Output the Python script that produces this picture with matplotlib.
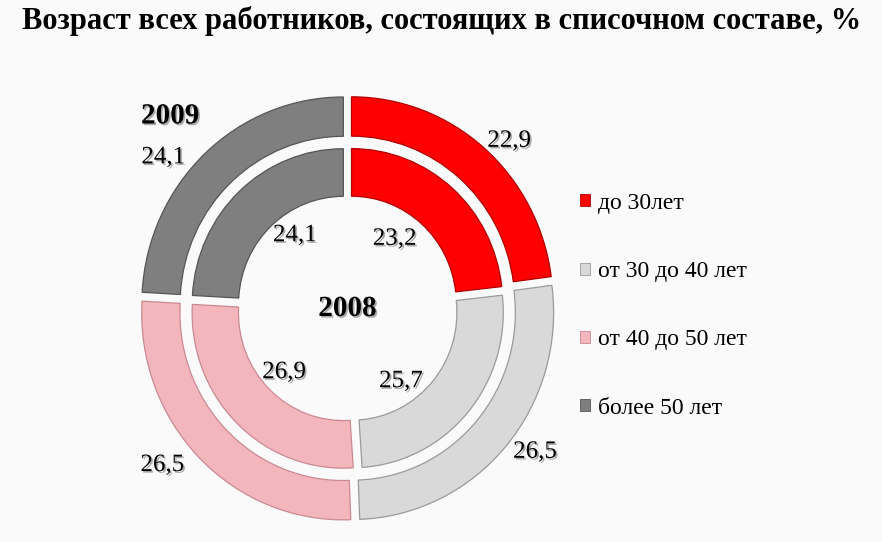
import numpy as np
import matplotlib.pyplot as plt
import matplotlib.patheffects as pe
from matplotlib.patches import Patch

plt.rcParams['font.family'] = ['Liberation Serif', 'DejaVu Serif']

# --- данные ---
categories = ["до 30лет", "от 30 до 40 лет", "от 40 до 50 лет", "более 50 лет"]
values_2009 = [22.9, 26.5, 26.5, 24.1]  # внешнее кольцо
values_2008 = [23.2, 25.7, 26.9, 24.1]  # внутреннее кольцо
colors = ["#ff0000", "#d9d9d9", "#f4b6bd", "#7f7f7f"]
edges = ["#b00000", "#9a9a9a", "#c98a92", "#555555"]

# подписи: (радиус, сдвиг угла в градусах) относительно биссектрисы сектора
outer_lbl = [(1.14, -3.5), (1.16, 3.5), (1.19, -5.0), (1.17, 8.0)]
inner_lbl = [(0.41, 7.0), (0.44, -13.0), (0.44, -1.0), (0.44, -7.0)]

fig = plt.figure(figsize=(8.82, 5.42), dpi=100)
fig.patch.set_facecolor("#fafafa")

# оси для диаграммы: центр ~ (347.5, 308.5) px, радиус ~202 x 207 px
lim = 1.2
rx, ry = 201.5, 207
wpx, hpx = 2 * lim * rx, 2 * lim * ry
ax = fig.add_axes([(347.5 - wpx / 2) / 882, (233.5 - hpx / 2) / 542, wpx / 882, hpx / 542])

shadow = [pe.SimplePatchShadow(offset=(1.2, -1.2), shadow_rgbFace="#777777", alpha=0.6), pe.Normal()]

outer, _ = ax.pie(values_2009, radius=1.0, startangle=90, counterclock=False,
                  colors=colors, explode=[0.03] * 4,
                  wedgeprops=dict(width=0.19, linewidth=0.9))
inner, _ = ax.pie(values_2008, radius=0.75, startangle=90, counterclock=False,
                  colors=colors, explode=[0.03] * 4,
                  wedgeprops=dict(width=0.23, linewidth=0.9))
for wd, ec in zip(list(outer) + list(inner), edges * 2):
    wd.set_edgecolor(ec)
ax.set_aspect("auto")
ax.set_xlim(-lim, lim)
ax.set_ylim(-lim, lim)
ax.axis("off")


def bisectors(vals):
    vals = np.asarray(vals)
    return 90 - 360 * (np.cumsum(vals) - vals / 2) / vals.sum()


def fmt(v):
    return f"{v:.1f}".replace(".", ",")


for vals, lbl in [(values_2009, outer_lbl), (values_2008, inner_lbl)]:
    for a, v, (r, da) in zip(bisectors(vals), vals, lbl):
        t = np.deg2rad(a + da)
        ax.text(r * np.cos(t), r * np.sin(t), fmt(v), ha="center", va="center",
                fontsize=18, path_effects=shadow)

ax.text(-0.88, 0.93, "2009", ha="center", va="center", fontsize=21,
        fontweight="bold", path_effects=shadow)
ax.text(0.0, 0.0, "2008", ha="center", va="center", fontsize=21,
        fontweight="bold", path_effects=shadow)

fig.text(0.501, 0.962, "Возраст всех работников, состоящих в списочном составе, %",
         ha="center", va="center", fontsize=22, fontweight="bold")

handles = [Patch(facecolor=c, edgecolor=e, linewidth=0.6) for c, e in zip(colors, edges)]
fig.legend(handles, categories, loc="center left", bbox_to_anchor=(0.658, 0.436),
           frameon=False, fontsize=17, labelspacing=2.0, handlelength=0.4,
           handleheight=0.4, handletextpad=0.35, borderpad=0, borderaxespad=0)

fig.savefig("out.png", dpi=100, facecolor=fig.get_facecolor())
